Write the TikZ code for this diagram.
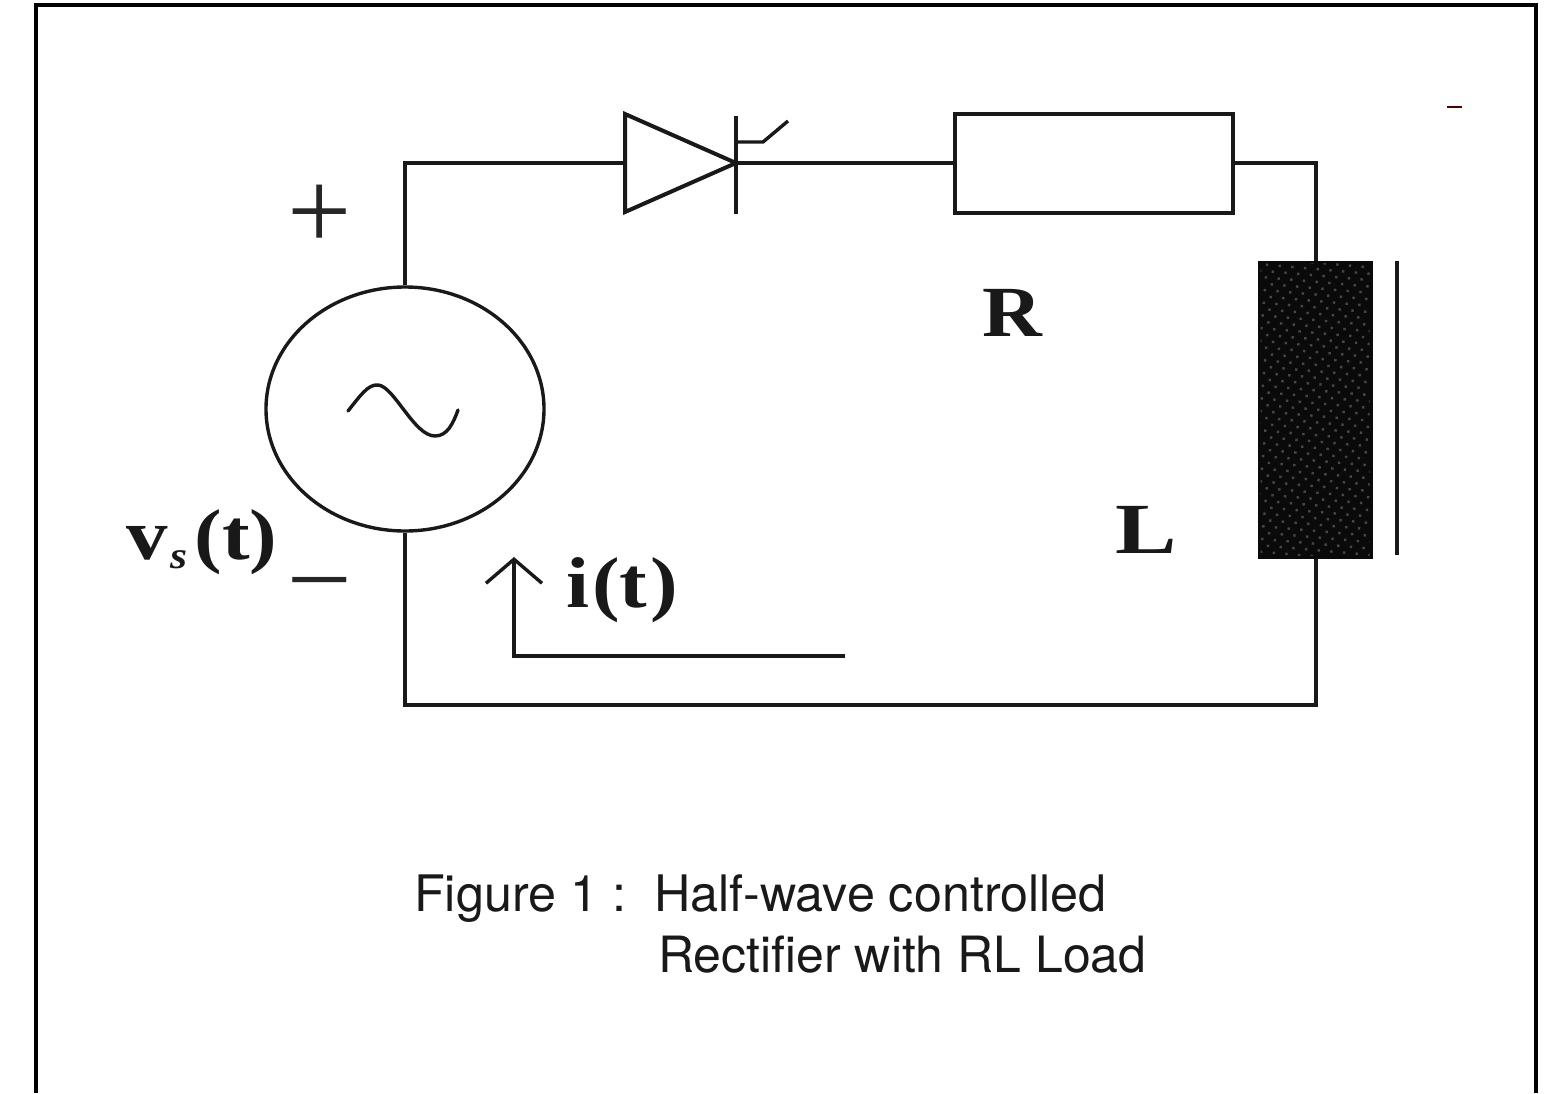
\documentclass[tikz,border=0pt]{standalone}
\usepackage{fontspec}
\setmainfont{Liberation Serif}
\newfontfamily\capfont{TeX Gyre Heros}
\newfontfamily\labfont[FakeStretch=1.15]{Liberation Serif}
\newfontfamily\wideserif[FakeStretch=1.28]{Liberation Serif}
\usetikzlibrary{shapes.geometric,arrows.meta,patterns.meta}
\begin{document}
\begin{tikzpicture}[x=1pt,y=-1pt,
    wire/.style={line width=4pt,line join=miter,color=black!90},
    thin wire/.style={wire,line width=3.4pt},
    lab/.style={inner sep=0pt,font=\labfont\fontsize{72}{72}\selectfont\bfseries,color=black!90},
    sign/.style={inner sep=0pt,font=\fontsize{114}{114}\selectfont,color=black!85},
    captext/.style={inner sep=0pt,anchor=base west,font=\capfont\fontsize{50}{50}\selectfont,color=black!90}]
\useasboundingbox (0,0) rectangle (1561,1093);
% frame, open at the bottom
\coordinate (fbl) at (36,1093);
\coordinate (ftl) at (36,5);
\coordinate (ftr) at (1536,5);
\coordinate (fbr) at (1536,1093);
\draw[line width=4.5pt,line join=miter] (fbl) -- (ftl) -- (ftr) -- (fbr);
% source
\node[ellipse,draw,thin wire,minimum width=278pt,minimum height=244pt,inner sep=0pt] (vs) at (405,409) {};
\draw[thin wire,line cap=round] (348,411) .. controls (360,396) and (368,384) .. (378,385)
  .. controls (394,386) and (414,436) .. (435,436) .. controls (447,436) and (453,424) .. (458,410);
% thyristor
\coordinate (ta) at (625,114);
\coordinate (tb) at (625,212);
\coordinate (tk) at (736,163);
\coordinate (ca) at (736,116);
\coordinate (cb) at (736,214);
\coordinate (g0) at (736,142);
\coordinate (g1) at (763,142);
\coordinate (g2) at (788,121);
\coordinate (tin) at (625,163);
\draw[wire] (ta) -- (tk) -- (tb) -- cycle;
\draw[wire] (ca) -- (cb);
\draw[thin wire] (g0) -- (g1) -- (g2);
% resistor and inductor
\node[rectangle,fill=black!96,draw=black!96,line width=1pt,minimum width=114pt,minimum height=297pt,inner sep=0pt] (l) at (1315,409.5) {};
\node[rectangle,draw,wire,minimum width=278pt,minimum height=99pt,inner sep=0pt] (r) at (1094,163.5) {};
\fill[pattern={Dots[distance=9pt,radius=1.7pt,angle=40]},pattern color=black!72]
  ([shift={(3pt,3pt)}]l.south west) rectangle ([shift={(-3pt,-3pt)}]l.north east);
\coordinate (core0) at (1397,261);
\coordinate (core1) at (1397,555);
\draw[wire] (core0) -- (core1);
% loop
\coordinate (c1) at (405,163);
\coordinate (c2) at (1316,163);
\coordinate (c3) at (1316,705);
\coordinate (c4) at (405,705);
\draw[wire] (vs.north) -- (c1) -- (tin);
\draw[wire] (tk) -- (r.west |- tk);
\draw[wire] (r.east |- c2) -- (c2) -- (c2 |- l.north);
\draw[wire] (c2 |- l.south) -- (c3) -- (c4) -- (vs.south);
% current arrow
\coordinate (i0) at (845,656);
\coordinate (i1) at (514,656);
\coordinate (i2) at (514,557);
\draw[thin wire,-{Straight Barb[length=24pt,width=56pt,line width=3.4pt]}] (i0) -- (i1) -- (i2);
% stray mark
\coordinate (m0) at (1447,107);
\coordinate (m1) at (1462,107);
\draw[line width=2.4pt,color=black!70!red] (m0) -- (m1);
% labels
\node[lab] (lr) at (1012,313) {R};
\node[lab,font=\wideserif\fontsize{72}{72}\selectfont\bfseries] (ll) at (1146.5,530) {L};
\node[lab] (li) at (622,590) {i\kern3pt(t\kern3pt)};
\node[lab] (lv) at (202,542) {v\kern3pt\raisebox{-9pt}{\fontsize{38}{38}\selectfont\itshape s}\kern7pt(t)};
\node[sign] (plus) at (320,217) {+};
\node[sign,font=\fontsize{105}{105}\selectfont] (minus) at (320,591) {–};
% caption
\node[captext,font=\capfont\fontsize{50.3}{50.3}\selectfont] (c1t) at (414,911) {Figure 1 :\ \ Half-wave controlled};
\node[captext] (c2t) at (658,972) {Rectifier with RL Load};
\end{tikzpicture}
\end{document}
